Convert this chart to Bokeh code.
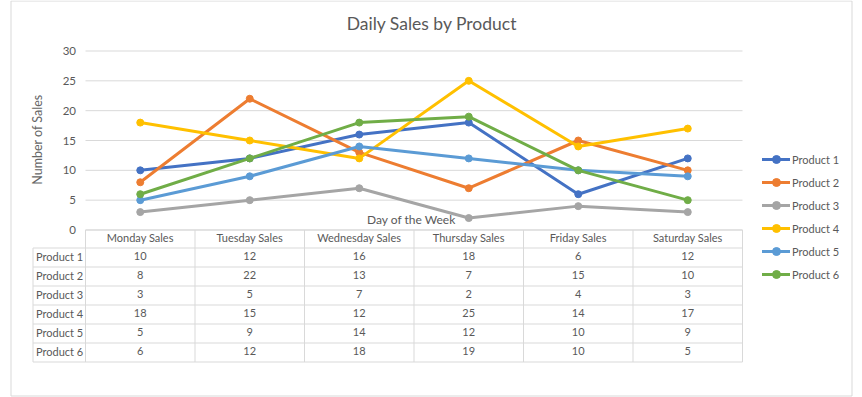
import math
from bokeh.plotting import figure
from bokeh.models import Range1d, Legend, LegendItem, ColumnDataSource
from bokeh.core.properties import value
from bokeh.embed import file_html
from bokeh.resources import INLINE

# ---------------- data ----------------
days = ["Monday Sales", "Tuesday Sales", "Wednesday Sales",
        "Thursday Sales", "Friday Sales", "Saturday Sales"]
products = ["Product 1", "Product 2", "Product 3",
            "Product 4", "Product 5", "Product 6"]
product_1 = [10, 12, 16, 18, 6, 12]
product_2 = [8, 22, 13, 7, 15, 10]
product_3 = [3, 5, 7, 2, 4, 3]
product_4 = [18, 15, 12, 25, 14, 17]
product_5 = [5, 9, 14, 12, 10, 9]
product_6 = [6, 12, 18, 19, 10, 5]
series = [product_1, product_2, product_3, product_4, product_5, product_6]
colors = ["#4472C4", "#ED7D31", "#A5A5A5", "#FFC000", "#5B9BD5", "#70AD47"]
y_ticks = [0, 5, 10, 15, 20, 25, 30]

title_text = "Daily Sales by Product"
x_title = "Day of the Week"
y_title = "Number of Sales"

# ---------------- layout (reference pixel positions) ----------------
FONT = "Lato"
TXT = "#595959"
GRID = "#d9d9d9"
W, H = 856, 397
OX, OY = 0, 0                  # where the figure sits on the page
CAT0_X, CAT_W = 139.75, 109.5  # centre of first category, category width
ZERO_Y, TOP_Y = 229.5, 50.5    # pixel rows of 0 and 30
PX_PER_UNIT = (ZERO_Y - TOP_Y) / 30.0
HEADER_BOTTOM = 247.5
ROW_H = 19.0
LABEL_COL_X = 32.5


def dx(px):
    return (px - CAT0_X) / CAT_W


def dy(py):
    return (ZERO_Y - py) / PX_PER_UNIT


p = figure(width=W, height=H,
           x_range=Range1d(dx(OX), dx(OX + W)),
           y_range=Range1d(dy(OY + H), dy(OY)),
           output_backend="svg", toolbar_location=None,
           x_axis_type=None, y_axis_type=None, min_border=0)
p.outline_line_color = None
p.background_fill_color = "white"
p.border_fill_color = "white"

# chart border
p.quad(left=dx(10.5), right=dx(851.5), top=dy(0.5), bottom=dy(395.5),
       fill_color=None, line_color=GRID, line_width=1)

# horizontal gridlines
n = len(days)
p.segment(x0=[-0.5] * len(y_ticks), x1=[n - 0.5] * len(y_ticks),
          y0=y_ticks, y1=y_ticks, line_color=GRID, line_width=1)

# y tick labels
p.text(x=[dx(75.5)] * len(y_ticks), y=y_ticks, text=[str(t) for t in y_ticks],
       text_align="right", text_baseline="middle", text_font=value(FONT),
       text_font_size="11.5px", text_color=TXT)

# titles
p.text(x=[dx(431.5)], y=[dy(23)], text=[title_text], text_align="center",
       text_baseline="middle", text_font=value(FONT), text_font_size="17.5px",
       text_color=TXT)
p.text(x=[dx(411)], y=[dy(219)], text=[x_title], text_align="center",
       text_baseline="middle", text_font=value(FONT), text_font_size="12px",
       text_color=TXT)
p.text(x=[dx(37)], y=[dy(139)], text=[y_title], text_align="center",
       text_baseline="middle", angle=math.pi / 2, text_font=value(FONT),
       text_font_size="12.5px", text_color="#666666")

# ---------------- data table ----------------
nrows = len(products)
row_lines_y = [dy(HEADER_BOTTOM + ROW_H * r) for r in range(nrows + 1)]
p.segment(x0=[-0.5], x1=[n - 0.5], y0=[0], y1=[0], line_color=GRID, line_width=1)
p.segment(x0=[dx(LABEL_COL_X)] * len(row_lines_y), x1=[n - 0.5] * len(row_lines_y),
          y0=row_lines_y, y1=row_lines_y, line_color=GRID, line_width=1)
vx = [k - 0.5 for k in range(n + 1)]
p.segment(x0=vx, x1=vx, y0=[0] * len(vx), y1=[row_lines_y[-1]] * len(vx),
          line_color=GRID, line_width=1)
p.segment(x0=[dx(LABEL_COL_X)], x1=[dx(LABEL_COL_X)], y0=[row_lines_y[0]],
          y1=[row_lines_y[-1]], line_color=GRID, line_width=1)

TABLE_FS = "11px"
p.text(x=list(range(n)), y=[dy((ZERO_Y + HEADER_BOTTOM) / 2 - 1.5)] * n, text=days,
       text_align="center", text_baseline="middle", text_font=value(FONT),
       text_font_size=TABLE_FS, text_color=TXT)
for r, (name, vals) in enumerate(zip(products, series)):
    yc = dy(HEADER_BOTTOM + ROW_H * (r + 0.5) - 1.5)
    p.text(x=[dx(35.5)], y=[yc], text=[name], text_align="left",
           text_baseline="middle", text_font=value(FONT), text_font_size=TABLE_FS,
           text_color=TXT)
    p.text(x=list(range(n)), y=[yc] * n, text=[str(v) for v in vals],
           text_align="center", text_baseline="middle", text_font=value(FONT),
           text_font_size=TABLE_FS, text_color=TXT)

# ---------------- series ----------------
items = []
for name, vals, c in zip(products, series, colors):
    src = ColumnDataSource(dict(x=list(range(n)), y=vals))
    lr = p.line("x", "y", source=src, line_color=c, line_width=3,
                line_join="round", line_cap="round")
    sr = p.scatter("x", "y", source=src, marker="circle", size=7,
                   fill_color=c, line_color=c)
    items.append(LegendItem(label=name, renderers=[lr, sr]))

# legend: first item centred at y=159, glyph starting at x=762
legend = Legend(items=items, location=(762 - OX, (OY + H) - 149 - 135),
                orientation="vertical",
                glyph_width=28, glyph_height=20, label_height=20, spacing=3,
                padding=0, margin=0, label_standoff=2,
                border_line_color=None, background_fill_alpha=0,
                label_text_font=FONT, label_text_font_size="11px",
                label_text_color=TXT)
p.add_layout(legend)

open("out.html", "w").write(file_html(p, INLINE))
